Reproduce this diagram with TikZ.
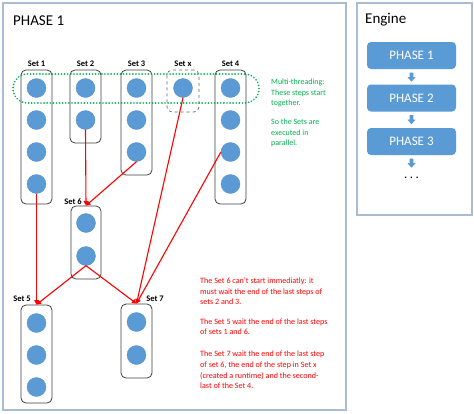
\documentclass[tikz,border=0pt]{standalone}
\usepackage{fontspec}
\setmainfont{Carlito}
\usetikzlibrary{arrows.meta,calc}
\definecolor{frame}{HTML}{A9BCD3}
\definecolor{stepblue}{HTML}{5B9BD5}
\definecolor{stepedge}{HTML}{4F89C0}
\definecolor{boxedge}{HTML}{404040}
\definecolor{thgreen}{HTML}{00B050}
\definecolor{depred}{HTML}{FF0000}
\begin{document}
\begin{tikzpicture}[x=1pt,y=-1pt,
  panel/.style={draw=frame,line width=1.2pt,fill=white},
  setbox/.style={draw=boxedge,line width=0.8pt,rounded corners=5pt,fill=white,inner sep=0pt},
  stepc/.style={circle,fill=stepblue,draw=stepedge,line width=0.3pt,minimum size=19pt,inner sep=0pt},
  setlabel/.style={font=\fontsize{8.5}{10}\selectfont\bfseries,inner sep=0pt},
  dep/.style={draw=depred,line width=1.1pt,-{Triangle[length=4.5pt,width=4.5pt]}},
  phasebox/.style={fill=stepblue,rounded corners=4pt,minimum width=89pt,minimum height=27pt,inner sep=0pt,text=white,font=\fontsize{13}{15}\selectfont},
  note/.style={align=left,anchor=north west,inner sep=0pt},
]
\useasboundingbox (0,0) rectangle (474,413);
% panels
\draw[panel] (3,3) rectangle (346,410);
\draw[panel] (357,3) rectangle (472,215);
\node[anchor=base west,inner sep=0pt,font=\fontsize{15}{18}\selectfont] (ph1title) at (13,25) {PHASE 1};
\node[anchor=base west,inner sep=0pt,font=\fontsize{15}{18}\selectfont] (engtitle) at (365,23) {Engine};
% engine phases
\node[phasebox] (p1) at (411.5,55.5) {PHASE 1};
\node[phasebox] (p2) at (411.5,98) {PHASE 2};
\node[phasebox] (p3) at (411.5,141.5) {PHASE 3};
\newcommand{\blockarrow}[1]{%
  \fill[stepblue] ($#1+(-1.8,0)$) -- ($#1+(1.8,0)$) -- ($#1+(1.8,4.5)$) -- ($#1+(4,4.5)$) -- ($#1+(0,9)$) -- ($#1+(-4,4.5)$) -- ($#1+(-1.8,4.5)$) -- cycle;}
\blockarrow{(p1.south)+(0,3.5)}
\blockarrow{(p2.south)+(0,3.5)}
\blockarrow{(p3.south)+(0,3.5)}
\node[inner sep=0pt,font=\fontsize{13}{15}\selectfont] (dots) at (411.5,178) {.\hspace{2.5pt}.\hspace{2.5pt}.};
% set boxes
\node[setbox,minimum width=31pt,minimum height=134pt] (s1) at (36.5,137) {};
\node[setbox,minimum width=31pt,minimum height=73pt] (s2) at (85.5,106.5) {};
\node[setbox,minimum width=31pt,minimum height=105pt] (s3) at (136.5,122.5) {};
\node[setbox,draw=boxedge!80,dashed,line width=0.7pt,minimum width=32pt,minimum height=42pt] (sx) at (183,91) {};
\node[setbox,minimum width=31pt,minimum height=134pt] (s4) at (230.5,137) {};
\node[setbox,minimum width=30pt,minimum height=73pt] (s6) at (86,242.5) {};
\node[setbox,minimum width=31pt,minimum height=98pt] (s5) at (36.5,354) {};
\node[setbox,minimum width=31pt,minimum height=74pt] (s7) at (136.5,341) {};
% labels
\node[setlabel,anchor=south] (l1) at ($(s1.north)+(0,-3)$) {Set 1};
\node[setlabel,anchor=south] (l2) at ($(s2.north)+(0,-3)$) {Set 2};
\node[setlabel,anchor=south] (l3) at ($(s3.north)+(0,-3)$) {Set 3};
\node[setlabel,anchor=south] (lx) at ($(sx.north)+(0,-3)$) {Set x};
\node[setlabel,anchor=south] (l4) at ($(s4.north)+(0,-3)$) {Set 4};
\node[setlabel] (l6) at (73,202) {Set 6};
\node[setlabel] (l5) at (22,299) {Set 5};
\node[setlabel] (l7) at (155,299) {Set 7};
% multithreading outline
\node[draw=thgreen,line width=1.8pt,dash pattern=on 0.1pt off 3pt,line cap=round,rounded corners=14.5pt,minimum width=246pt,minimum height=29pt,inner sep=0pt] (mt) at (136,88.5) {};
% steps
\foreach \i/\y in {1/88,2/120,3/152,4/184} \node[stepc] (s1c\i) at (36.5,\y) {};
\foreach \i/\y in {1/88,2/120} \node[stepc] (s2c\i) at (85.5,\y) {};
\foreach \i/\y in {1/88,2/120,3/152} \node[stepc] (s3c\i) at (136.5,\y) {};
\node[stepc] (sxc1) at (183,88) {};
\foreach \i/\y in {1/88,2/120,3/152,4/184} \node[stepc] (s4c\i) at (230.5,\y) {};
\foreach \i/\y in {1/223,2/256} \node[stepc] (s6c\i) at (86,\y) {};
\foreach \i/\y in {1/323,2/355,3/387} \node[stepc] (s5c\i) at (36.5,\y) {};
\foreach \i/\y in {1/322,2/355} \node[stepc] (s7c\i) at (136.5,\y) {};
% dependencies
\draw[dep] (s1c4.south) -- (s5.north);
\draw[dep] (s2c2.south) -- (s6.north);
\draw[dep] (s3c3.south) -- (s6.north);
\draw[dep] (sxc1.south) -- (s7.north);
\draw[dep] (s4c3.west) -- (s7.north);
\draw[dep] (s6c2.south) -- (s5.north);
\draw[dep] (s6c2.south) -- (s7.north);
% notes
\node[note,text=thgreen,font=\fontsize{8}{10.3}\selectfont] (g1) at (271,79) {Multi-threading:\\These steps start\\together.};
\node[note,text=thgreen,font=\fontsize{8}{10.3}\selectfont] (g2) at (271,119) {So the Sets are\\executed in\\parallel.};
\begin{scope}[every node/.append style={font=\fontsize{8.1}{10.6}\selectfont}]
\node[note,text=depred] (r1) at (200,277.5) {The Set 6 can’t start immediatly: it\\must wait the end of the last steps of\\sets 2 and 3.};
\node[note,text=depred] (r2) at (200,318.5) {The Set 5 wait the end of the last steps\\of sets 1 and 6.};
\node[note,text=depred] (r3) at (200,351) {The Set 7 wait the end of the last step\\of set 6, the end of the step in Set x\\(created a runtime) and the second-\\last of the Set 4.};
\end{scope}
\end{tikzpicture}
\end{document}
